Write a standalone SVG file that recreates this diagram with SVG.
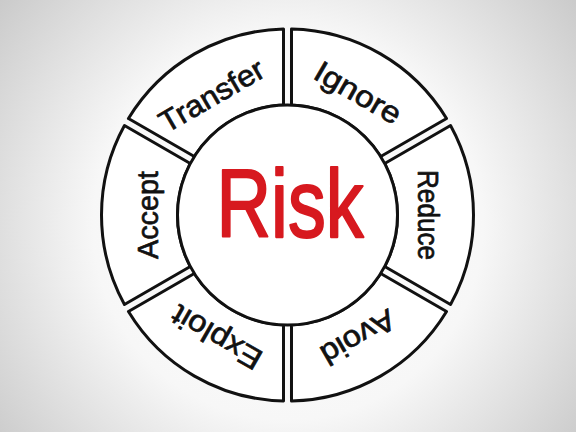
<svg xmlns="http://www.w3.org/2000/svg" width="576" height="432" viewBox="0 0 576 432">
  <defs>
    <radialGradient id="bg" gradientUnits="userSpaceOnUse" cx="288" cy="225" r="390">
      <stop offset="0" stop-color="#ffffff"/>
      <stop offset="0.5" stop-color="#f7f7f7"/>
      <stop offset="1" stop-color="#c4c4c4"/>
    </radialGradient>
    <path id="sector" d="M 89.52,-163.04 A 186 186 0 0 0 -89.52,-163.04 L -51.50,-97.20 A 110 110 0 0 1 51.50,-97.20 Z"/>
  </defs>
  <style>
    .seg { fill: #ffffff; stroke: #111111; stroke-width: 3; stroke-linejoin: round; }
    .lbl { font-family: "Liberation Sans", "DejaVu Sans", sans-serif; font-size: 30px; fill: #111111; stroke: #111111; stroke-width: 0.7; stroke-linejoin: round; text-anchor: middle; }
    .core { fill: #ffffff; stroke: #111111; stroke-width: 3; }
    .title { font-family: "Liberation Sans", "DejaVu Sans", sans-serif; font-size: 96px; fill: #d7191f; stroke: #d7191f; stroke-width: 2.2; stroke-linejoin: round; text-anchor: middle; }
  </style>
  <rect x="0" y="0" width="576" height="432" fill="url(#bg)"/>

  <g id="transfer" transform="translate(287.5,215) rotate(-30)">
    <use href="#sector" class="seg"/>
    <text class="lbl" x="-6" y="-131" textLength="116" lengthAdjust="spacingAndGlyphs">Transfer</text>
  </g>
  <g id="ignore" transform="translate(287.5,215) rotate(30)">
    <use href="#sector" class="seg"/>
    <text class="lbl" x="0" y="-131" textLength="95" lengthAdjust="spacingAndGlyphs">Ignore</text>
  </g>
  <g id="reduce" transform="translate(287.5,215) rotate(90)">
    <use href="#sector" class="seg"/>
    <text class="lbl" x="0" y="-130" textLength="90" lengthAdjust="spacingAndGlyphs">Reduce</text>
  </g>
  <g id="avoid" transform="translate(287.5,215) rotate(150)">
    <use href="#sector" class="seg"/>
    <text class="lbl" x="0" y="-131" textLength="81" lengthAdjust="spacingAndGlyphs">Avoid</text>
  </g>
  <g id="exploit" transform="translate(287.5,215) rotate(210)">
    <use href="#sector" class="seg"/>
    <text class="lbl" x="0" y="-131" textLength="99" lengthAdjust="spacingAndGlyphs">Exploit</text>
  </g>
  <g id="accept" transform="translate(287.5,215) rotate(270)">
    <use href="#sector" class="seg"/>
    <text class="lbl" x="0" y="-130" textLength="88" lengthAdjust="spacingAndGlyphs">Accept</text>
  </g>

  <g id="risk">
    <circle class="core" cx="287.5" cy="215" r="110"/>
    <text class="title" x="290" y="237" textLength="147" lengthAdjust="spacingAndGlyphs">Risk</text>
  </g>
</svg>
